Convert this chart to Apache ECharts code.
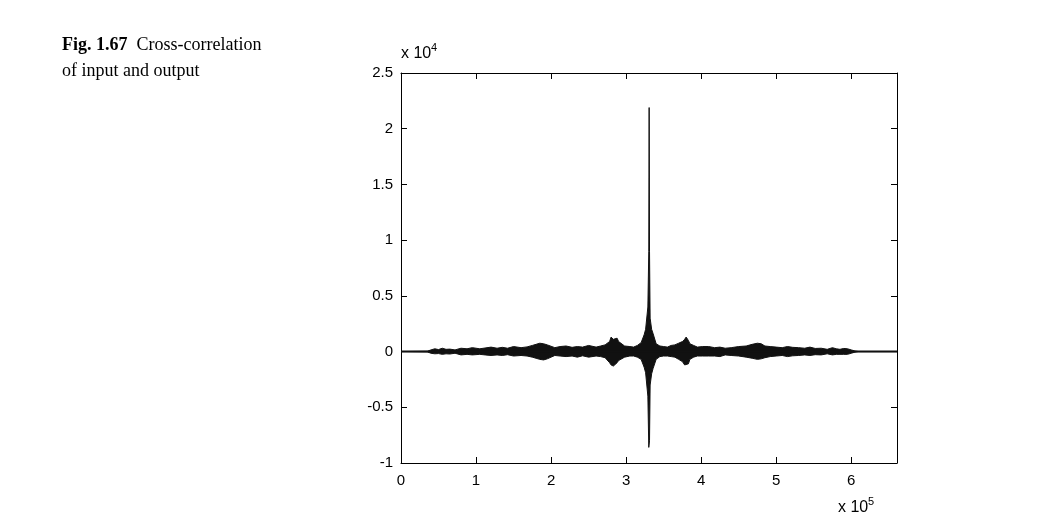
<!DOCTYPE html>
<html><head><meta charset="utf-8">
<script src="https://cdn.jsdelivr.net/npm/echarts@6/dist/echarts.min.js"></script>
<style>html,body{margin:0;background:#fff}#c{width:1045px;height:528px}</style>
</head><body><div id="c"></div>
<script>
// lag positions (x 1e5) and envelope of cross-correlation
const lagPos = [0,0.35,0.4,0.45,0.5,0.55,0.6,0.65,0.72,0.8,0.88,0.95,1.05,1.12,1.2,1.28,1.35,1.42,1.5,1.6,1.68,1.75,1.8,1.85,1.9,1.95,2.05,2.12,2.2,2.28,2.35,2.42,2.5,2.6,2.66,2.72,2.78,2.8,2.83,2.85,2.88,2.9,2.98,3.05,3.1,3.15,3.2,3.24,3.26,3.29,3.302,3.307,3.312,3.32,3.34,3.36,3.4,3.45,3.5,3.55,3.6,3.65,3.7,3.75,3.78,3.8,3.83,3.85,3.9,3.95,4.02,4.1,4.18,4.25,4.32,4.4,4.5,4.6,4.68,4.75,4.8,4.85,4.92,5.0,5.08,5.15,5.22,5.3,5.38,5.45,5.52,5.6,5.68,5.75,5.8,5.85,5.9,5.95,6.0,6.05,6.1,6.61];
const upperEnv = [0,30,150,250,180,300,200,220,150,300,250,350,250,320,400,300,380,300,450,350,420,550,650,750,700,600,350,450,500,380,450,400,550,400,500,600,900,1300,1100,1000,1200,900,500,450,400,550,800,1500,2000,4000,9000,21900,9000,3000,2000,1600,700,500,450,400,550,600,750,900,1100,1300,1000,700,550,400,450,450,350,400,300,350,450,500,650,750,700,500,450,400,350,450,380,350,300,400,280,300,200,350,250,200,280,250,150,50,0,0];
const lowerEnv = [0,-30,-150,-200,-180,-250,-200,-220,-150,-300,-250,-300,-250,-300,-350,-300,-350,-280,-400,-350,-400,-500,-600,-700,-750,-650,-350,-400,-450,-400,-500,-380,-500,-400,-450,-550,-1000,-1200,-1300,-1300,-1000,-800,-500,-400,-400,-500,-700,-1400,-1900,-4000,-8600,-8600,-8000,-3000,-2000,-1500,-700,-450,-400,-400,-450,-500,-700,-900,-1200,-1300,-1100,-700,-500,-400,-400,-400,-400,-450,-300,-350,-400,-500,-600,-700,-650,-550,-450,-400,-350,-450,-380,-350,-300,-350,-280,-300,-200,-300,-250,-250,-250,-250,-150,-50,0,0];
const yTicks = [-10000,-5000,0,5000,10000,15000,20000,25000];

const up = lagPos.map((x,i)=>[x*1e5, upperEnv[i]]);
const lo = lagPos.map((x,i)=>[x*1e5, lowerEnv[i]]);
const chart = echarts.init(document.getElementById('c'));
const axFont = {fontFamily:'Liberation Sans', fontSize:15, color:'#000'};
const axLine = {show:true, onZero:false, lineStyle:{color:'#000', width:1}};
const tick = {show:true, inside:true, length:6, lineStyle:{color:'#000'}};
chart.setOption({
  animation:false,
  grid:{left:401, right:148, top:73, bottom:65},
  xAxis:[
    {type:'value', min:0, max:661000, interval:100000, axisLine:axLine, axisTick:tick, splitLine:{show:false},
     axisLabel:{...axFont, margin:10, showMaxLabel:false, formatter:v=>String(v/1e5)}},
    {type:'value', position:'top', min:0, max:661000, interval:100000, axisLine:axLine, axisTick:tick,
     axisLabel:{show:false}, splitLine:{show:false}}
  ],
  yAxis:[
    {type:'value', min:yTicks[0], max:yTicks[yTicks.length-1], interval:5000, axisLine:axLine, axisTick:tick,
     splitLine:{show:false}, axisLabel:{...axFont, margin:8, formatter:v=>String(v/1e4)}},
    {type:'value', position:'right', min:-10000, max:25000, interval:5000, axisLine:axLine, axisTick:tick,
     axisLabel:{show:false}, splitLine:{show:false}}
  ],
  series:[
    {type:'line', data:up, symbol:'none', lineStyle:{color:'#111', width:1}, areaStyle:{color:'#111', opacity:1, origin:0}},
    {type:'line', data:lo, symbol:'none', lineStyle:{color:'#111', width:1}, areaStyle:{color:'#111', opacity:1, origin:0}},
    {type:'line', data:[[0,0],[661000,0]], symbol:'none', lineStyle:{color:'#111', width:2}},
    {type:'line', xAxisIndex:1, yAxisIndex:1, data:[], symbol:'none'}
  ],
  graphic:[
    {type:'text', left:401, top:46, style:{text:'x 10', font:'16px Liberation Sans', fill:'#000'}},
    {type:'text', left:431, top:42, style:{text:'4', font:'11px Liberation Sans', fill:'#000'}},
    {type:'text', left:838, top:500, style:{text:'x 10', font:'16px Liberation Sans', fill:'#000'}},
    {type:'text', left:868, top:496, style:{text:'5', font:'11px Liberation Sans', fill:'#000'}},
    {type:'text', left:62, top:36, style:{rich:{b:{font:'bold 18px Liberation Serif', fill:'#000'}, n:{font:'18px Liberation Serif', fill:'#000'}}, text:'{b|Fig. 1.67}{n|  Cross-correlation}'}},
    {type:'text', left:62, top:62, style:{text:'of input and output', font:'18px Liberation Serif', fill:'#000'}}
  ]
});
</script></body></html>
